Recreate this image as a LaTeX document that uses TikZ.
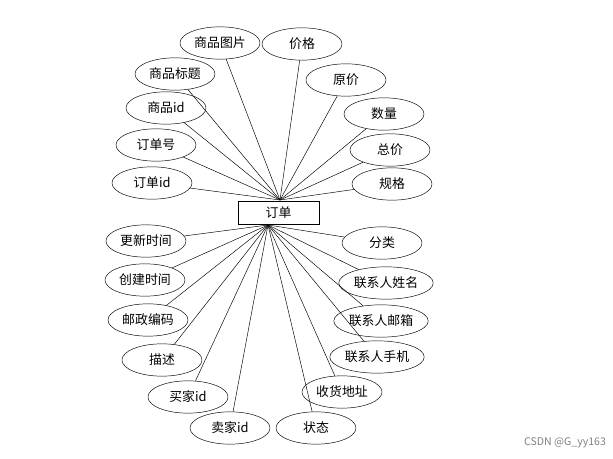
\documentclass[tikz,border=0pt]{standalone}
\usepackage{fontspec}
\setmainfont{Noto Sans CJK SC}
\usetikzlibrary{shapes.geometric}
\tikzset{
    % attribute ellipses
    attr/.style={
           ellipse,
           draw=black,
           inner sep=1pt,
           minimum width=2.4cm,
           minimum height=0.97cm,
           font=\fontsize{11}{12}\selectfont},
    % entity box
    entity/.style={
           rectangle,
           draw=black,
           minimum width=2.43cm,
           minimum height=0.69cm,
           font=\fontsize{11}{12}\selectfont},
    link/.style={black}
}
\begin{document}
\begin{tikzpicture}[x=0.03cm, y=-0.03cm]
    \useasboundingbox (0,0) rectangle (613,459);
    \node [entity] (order) at (278.5,212.5) {订单};
    \coordinate (top) at (280,200);
    \coordinate (bot) at (268,225);
    % upper attributes
    \foreach \name/\x/\y/\txt in {a/220/43/商品图片, b/302/44/价格, c/175/74/商品标题,
        d/346/80/原价, e/166/108/商品id, f/384/114/数量, g/156/145/订单号,
        h/390/150/总价, i/152/183/订单id, j/392/184/规格} {
        \node [attr] (\name) at (\x,\y) {\txt};
        \draw [link] (\name) -- (top);
    }
    % lower attributes
    \foreach \name/\x/\y/\txt in {k/146/241/更新时间, l/382/243/分类, m/145/280/创建时间,
        n/386/283/联系人姓名, o/148/320/邮政编码, p/381/321/联系人邮箱, q/162/360/描述,
        r/377/357/联系人手机, s/188/397/买家id, t/342/392/收货地址, u/230/428/卖家id,
        v/316/428/状态} {
        \node [attr] (\name) at (\x,\y) {\txt};
        \draw [link] (\name) -- (bot);
    }
    \node [text=gray, font=\fontsize{9}{10}\selectfont, anchor=east] (mark) at (610,443) {CSDN @G\_yy163};
\end{tikzpicture}
\end{document}
